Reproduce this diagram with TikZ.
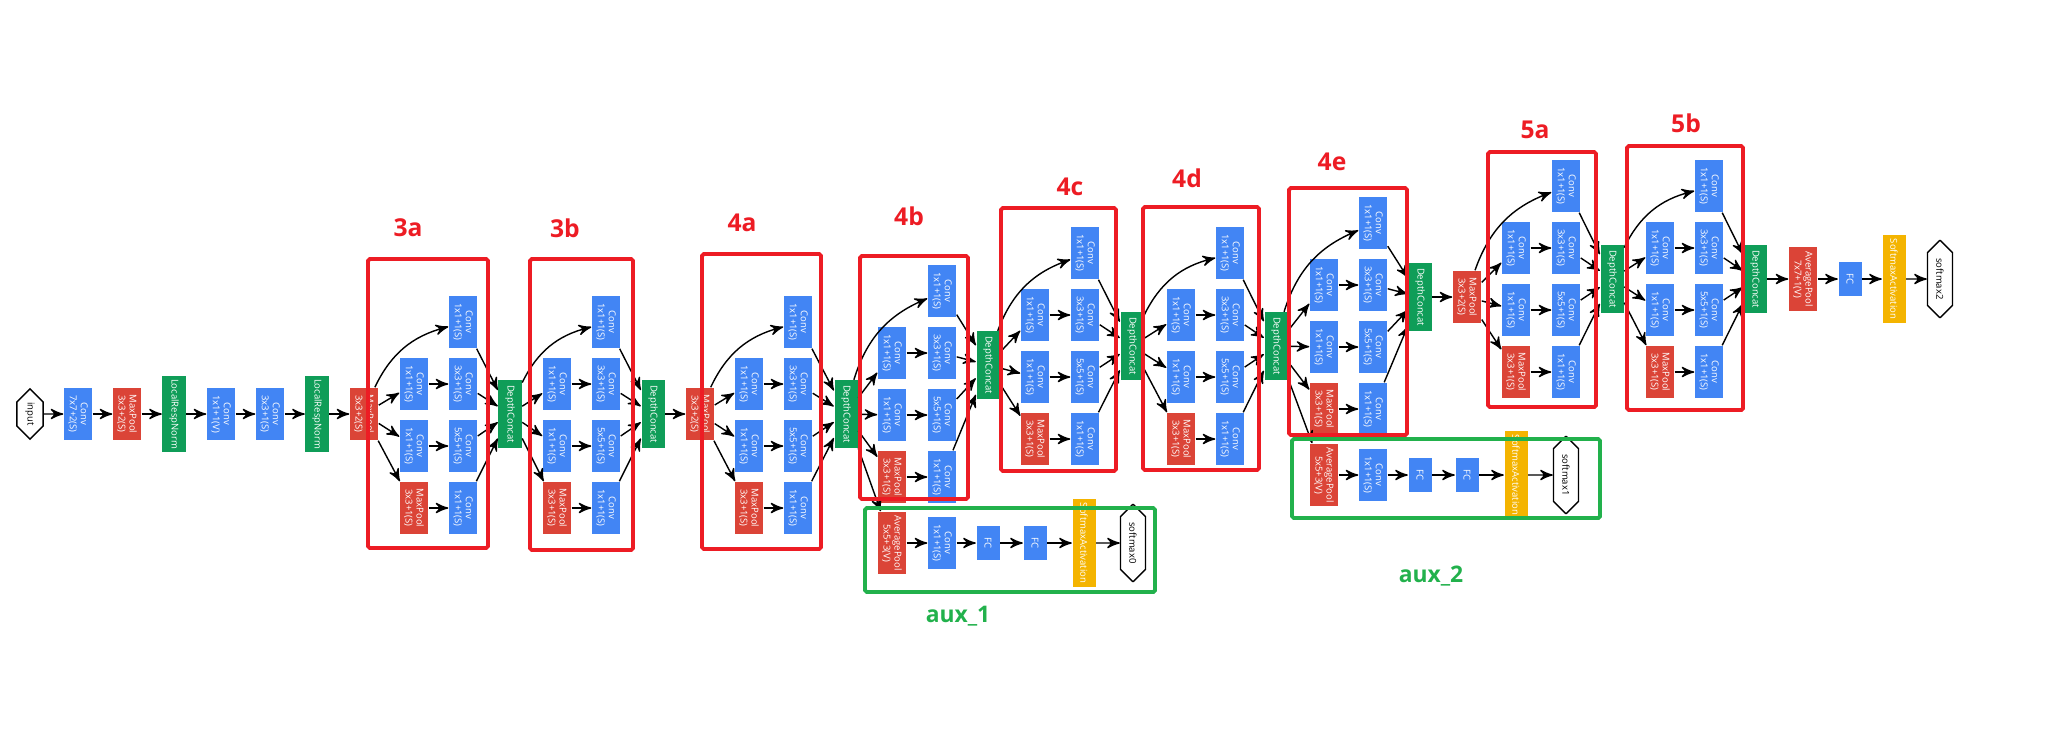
\documentclass[tikz,border=0pt]{standalone}
\usepackage{fontspec}
\setmainfont{Open Sans}
\usetikzlibrary{shapes,shapes.misc,positioning,arrows,calc}
\definecolor{gblue}{HTML}{4285F4}
\definecolor{gred}{HTML}{DB4437}
\definecolor{ggreen}{HTML}{0F9D58}
\definecolor{gyellow}{HTML}{F4B400}
\definecolor{frred}{HTML}{ED1C24}
\definecolor{frgreen}{HTML}{22B14C}
\tikzset{->,>=stealth',
  blk/.style={rotate=-90,inner sep=0,align=center,text=white,
    font=\fontsize{2.7}{3.1}\selectfont},
  conv/.style={blk,fill=gblue,minimum width=0.52cm,minimum height=0.28cm},
  pool/.style={blk,fill=gred,minimum width=0.52cm,minimum height=0.28cm},
  concat/.style={blk,fill=ggreen,minimum width=0.67cm,minimum height=0.23cm},
  fc/.style={blk,fill=gblue,minimum width=0.34cm,minimum height=0.23cm},
  act/.style={blk,fill=gyellow,minimum width=0.88cm,minimum height=0.23cm},
  octa/.style={rotate=-90,draw,chamfered rectangle,chamfered rectangle xsep=0.2cm,
    chamfered rectangle ysep=0.085cm,inner sep=0,minimum height=0.25cm,
    font=\fontsize{2.7}{3.1}\selectfont},
  frame/.style={-,draw=frred,line width=1.1pt,rounded corners=0.5pt},
  auxframe/.style={-,draw=frgreen,line width=1.1pt,rounded corners=0.5pt},
  tag/.style={text=frred,font=\bfseries\fontsize{7}{8}\selectfont},
  auxtag/.style={text=frgreen,font=\bfseries\fontsize{6.5}{8}\selectfont}}
% #1 name, #2 input node, #3 #4 column x, #5 concat x, #6 top row y, #7 concat y
\newcommand{\incep}[7]{%
  \node[conv] (#1t) at (#4,#6) {Conv\\1x1+1(S)};
  \node[conv] (#1a) at (#3,#6+62) {Conv\\1x1+1(S)};
  \node[conv] (#1a2) at (#4,#6+62) {Conv\\3x3+1(S)};
  \node[conv] (#1b) at (#3,#6+124) {Conv\\1x1+1(S)};
  \node[conv] (#1b2) at (#4,#6+124) {Conv\\5x5+1(S)};
  \node[pool] (#1p) at (#3,#6+186) {MaxPool\\3x3+1(S)};
  \node[conv] (#1p2) at (#4,#6+186) {Conv\\1x1+1(S)};
  \node[concat] (#1dc) at (#5,#7) {DepthConcat};
  \draw (#2) to[bend left=25] (#1t);
  \foreach \s in {a,b,p} {
    \draw (#2) -- (#1\s);
    \draw (#1\s) -- (#1\s2);
  }
  \foreach \s in {t,a2,b2,p2} \draw (#1\s) -- (#1dc);
}

\begin{document}
\begin{tikzpicture}[x=0.01cm,y=-0.01cm]
\useasboundingbox (0,0) rectangle (2054,748);

% stem
\node[octa,minimum width=0.5cm] (in) at (30,414) {input};
\node[conv] (c1) at (78,414) {Conv\\7x7+2(S)};
\node[pool] (m1) at (127,414) {MaxPool\\3x3+2(S)};
\node[concat,minimum width=0.76cm] (n1) at (174,414) {LocalRespNorm};
\node[conv] (c2) at (221,414) {Conv\\1x1+1(V)};
\node[conv] (c3) at (270,414) {Conv\\3x3+1(S)};
\node[concat,minimum width=0.76cm] (n2) at (317,414) {LocalRespNorm};
\node[pool] (m2) at (364,414) {MaxPool\\3x3+2(S)};
\foreach \a/\b in {in/c1,c1/m1,m1/n1,n1/c2,c2/c3,c3/n2,n2/m2} \draw (\a) -- (\b);

% inception blocks
\incep{i3a}{m2}{414}{463}{510}{322}{414}
\incep{i3b}{i3adc}{557}{606}{653}{322}{414}
\node[pool] (m3) at (700,414) {MaxPool\\3x3+2(S)};
\draw (i3bdc) -- (m3);
\incep{i4a}{m3}{749}{798}{846}{322}{414}
\incep{i4b}{i4adc}{892}{942}{988}{291}{365}
\incep{i4c}{i4bdc}{1035}{1085}{1132}{253}{346}
\incep{i4d}{i4cdc}{1181}{1230}{1276}{253}{346}
\incep{i4e}{i4ddc}{1324}{1373}{1420}{223}{297}
\node[pool] (m4) at (1467,297) {MaxPool\\3x3+2(S)};
\draw (i4edc) -- (m4);
\incep{i5a}{m4}{1516}{1566}{1612}{186}{279}
\incep{i5b}{i5adc}{1660}{1709}{1755}{186}{279}

% head
\node[pool,minimum width=0.63cm] (ap) at (1803,279) {AveragePool\\7x7+1(V)};
\node[fc] (fc) at (1850,279) {FC};
\node[act] (sa) at (1894,279) {SoftmaxActivation};
\node[octa,minimum width=0.77cm] (s2) at (1940,279) {softmax2};
\foreach \a/\b in {i5bdc/ap,ap/fc,fc/sa,sa/s2} \draw (\a) -- (\b);

% auxiliary heads
\node[pool,minimum width=0.62cm] (xap1) at (892,543) {AveragePool\\5x5+3(V)};
\node[conv] (xc1) at (942,543) {Conv\\1x1+1(S)};
\node[fc] (xfa1) at (988,543) {FC};
\node[fc] (xfb1) at (1035,543) {FC};
\node[act] (xsa1) at (1084,543) {SoftmaxActivation};
\node[octa,minimum width=0.77cm] (s0) at (1133,543) {softmax0};
\foreach \a/\b in {i4adc/xap1,xap1/xc1,xc1/xfa1,xfa1/xfb1,xfb1/xsa1,xsa1/s0} \draw (\a) -- (\b);

\node[pool,minimum width=0.62cm] (xap2) at (1324,475) {AveragePool\\5x5+3(V)};
\node[conv] (xc2) at (1373,475) {Conv\\1x1+1(S)};
\node[fc] (xfa2) at (1420,475) {FC};
\node[fc] (xfb2) at (1467,475) {FC};
\node[act] (xsa2) at (1516,475) {SoftmaxActivation};
\node[octa,minimum width=0.77cm] (s1) at (1566,475) {softmax1};
\foreach \a/\b in {i4ddc/xap2,xap2/xc2,xc2/xfa2,xfa2/xfb2,xfb2/xsa2,xsa2/s1} \draw (\a) -- (\b);

% frames and tags
\draw[frame] (368,259) rectangle (488,548);
\draw[frame] (530,259) rectangle (633,550);
\draw[frame] (702,254) rectangle (821,549);
\draw[frame] (860,256) rectangle (968,499);
\draw[frame] (1001,208) rectangle (1116,471);
\draw[frame] (1143,207) rectangle (1259,470);
\draw[frame] (1289,188) rectangle (1407,435);
\draw[frame] (1488,152) rectangle (1596,407);
\draw[frame] (1627,146) rectangle (1743,410);
\node[tag] (t3a) at (408,228) {3a};
\node[tag] (t3b) at (565,228) {3b};
\node[tag] (t4a) at (742,223) {4a};
\node[tag] (t4b) at (909,216) {4b};
\node[tag] (t4c) at (1070,187) {4c};
\node[tag] (t4d) at (1187,178) {4d};
\node[tag] (t4e) at (1332,162) {4e};
\node[tag] (t5a) at (1535,130) {5a};
\node[tag] (t5b) at (1686,123) {5b};
\draw[auxframe] (865,508) rectangle (1155,592);
\draw[auxframe] (1292,439) rectangle (1600,518);
\node[auxtag] (ta1) at (958,616) {aux\_1};
\node[auxtag] (ta2) at (1431,576) {aux\_2};
\end{tikzpicture}
\end{document}
